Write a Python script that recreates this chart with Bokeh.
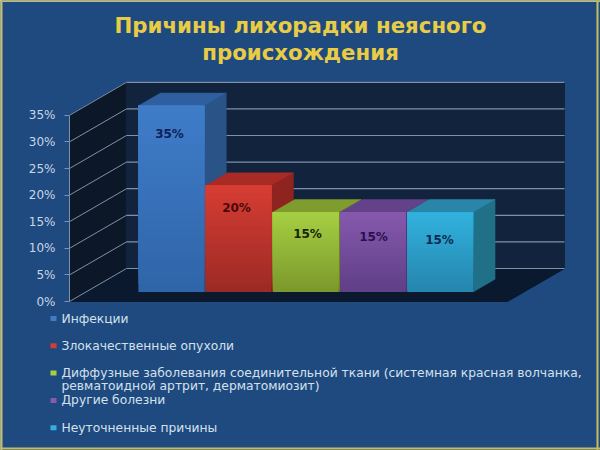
from bokeh.plotting import figure
from bokeh.models import FixedTicker, PrintfTickFormatter
from bokeh.core.properties import value
from bokeh.embed import file_html
from bokeh.resources import INLINE

# ---- data ----
title_lines = ["Причины лихорадки неясного", "происхождения"]
categories = [
    "Инфекции",
    "Злокачественные опухоли",
    "Диффузные заболевания соединительной ткани (системная красная волчанка,\nревматоидной артрит, дерматомиозит)",
    "Другие болезни",
    "Неуточненные причины",
]
values = [35, 20, 15, 15, 15]
ticks = [0, 5, 10, 15, 20, 25, 30, 35]

# ---- styles ----
top_cols = ["#3f7dc9", "#d63d33", "#a6cf42", "#8659ae", "#31b2de"]
bot_cols = ["#2f64a8", "#9c2a25", "#7b982c", "#5f3f85", "#2585ad"]
lid_cols = ["#2f5f9e", "#a82b25", "#7f9d2f", "#63428a", "#2a86a8"]
side_cols = ["#2a5488", "#8e2320", "#6c8627", "#553878", "#207088"]
label_cols = ["#10205a", "#4a0a0a", "#18240a", "#2a0f50", "#0a2c50"]
label_xy = [(169, 133), (236, 207), (307, 233), (373, 236), (439, 239)]
BG = "#1e4a80"
TICKC = "#c9d6e6"
GRID = "#7d91ac"

# page pixel <-> data scale
X0, XS = 121.5, 67.2   # page x at category 0, px per bar
Y0, YS = 301.0, 5.32   # page y at 0 %, px per percent
def dx(px): return (px - X0) / XS
def dy(py): return (Y0 - py) / YS

W, H = 600, 450
p = figure(width=W, height=H, output_backend="svg", toolbar_location=None,
           x_range=(dx(0), dx(W)), y_range=(dy(H), dy(0)),
           x_axis_location=None, min_border=0, outline_line_color=None,
           background_fill_color=BG, border_fill_color=BG)
p.grid.visible = False

# box geometry, in data units
XL, XR = dx(69), dx(507)
DEPTH_X, DEPTH_Y = 57 / XS, 33 / YS
TOP = max(ticks)

p.patch([XL, XL + DEPTH_X, XL + DEPTH_X, XL], [0, DEPTH_Y, TOP + DEPTH_Y, TOP], color="#0c1828")
p.patch([XL + DEPTH_X, XR + DEPTH_X, XR + DEPTH_X, XL + DEPTH_X],
        [DEPTH_Y, DEPTH_Y, TOP + DEPTH_Y, TOP + DEPTH_Y], color="#12233d")
p.patch([XL, XR, XR + DEPTH_X, XL + DEPTH_X], [0, 0, DEPTH_Y, DEPTH_Y], color="#0a192e")

p.segment([XL] * len(ticks), ticks, [XL + DEPTH_X] * len(ticks), [t + DEPTH_Y for t in ticks],
          line_color=GRID, line_width=1)
p.segment([XL + DEPTH_X] * len(ticks), [t + DEPTH_Y for t in ticks],
          [XR + DEPTH_X] * len(ticks), [t + DEPTH_Y for t in ticks],
          line_color=GRID, line_width=1.2)

# bars
Z0, Z1 = 0.288, 0.674
BW = 0.98
def mix(a, b, t):
    ca = [int(a[i:i + 2], 16) for i in (1, 3, 5)]
    cb = [int(b[i:i + 2], 16) for i in (1, 3, 5)]
    return "#%02x%02x%02x" % tuple(round(u + (w - u) * t) for u, w in zip(ca, cb))

for i, v in enumerate(values):
    l0 = i + Z0 * DEPTH_X
    r0 = l0 + BW
    l1 = i + Z1 * DEPTH_X
    r1 = l1 + BW
    y0 = Z0 * DEPTH_Y
    y1 = Z1 * DEPTH_Y
    p.patch([r0, r1, r1, r0], [y0, y1, v + y1, v + y0], color=side_cols[i], line_width=0.5)
    p.patch([l0, r0, r1, l1], [v + y0, v + y0, v + y1, v + y1], color=lid_cols[i], line_width=0.5)
    n = 24
    edges = [y0 + v * k / n for k in range(n + 1)]
    cols = [mix(bot_cols[i], top_cols[i], (k + 0.5) / n) for k in range(n)]
    # each strip runs to the bar's top and is painted over by the next one: no seams
    p.quad(left=[l0] * n, right=[r0] * n, bottom=edges[:-1], top=[edges[-1]] * n,
           fill_color=cols, line_color=None)
    p.text([dx(label_xy[i][0])], [dy(label_xy[i][1])], text=[f"{v}%"],
           text_font=value("DejaVu Sans"), text_font_style="bold", text_font_size="12px",
           text_color=label_cols[i], text_align="center", text_baseline="middle")

# axis
ax = p.yaxis[0]
ax.fixed_location = XL
ax.ticker = FixedTicker(ticks=ticks)
ax.formatter = PrintfTickFormatter(format="%d%%")
ax.bounds = (0, TOP)
ax.axis_line_color = GRID
ax.major_tick_line_color = GRID
ax.major_tick_out = 5
ax.major_tick_in = 0
ax.minor_tick_line_color = None
ax.major_label_standoff = 9
ax.major_label_text_color = TICKC
ax.major_label_text_font = "DejaVu Sans"
ax.major_label_text_font_size = "12px"

# title
p.text([dx(300)], [dy(25)], text=[title_lines[0]], text_font=value("DejaVu Sans"),
       text_font_style="bold", text_font_size="21.3px", text_color="#e9cc46",
       text_align="center", text_baseline="middle")
p.text([dx(300)], [dy(52)], text=[title_lines[1]], text_font=value("DejaVu Sans"),
       text_font_style="bold", text_font_size="21.3px", text_color="#e9cc46",
       text_align="center", text_baseline="middle")

# legend
ROW0, ROWSTEP, LINESTEP = 318, 27.3, 13.3
for i, c in enumerate(categories):
    yc = ROW0 + i * ROWSTEP
    p.quad(left=[dx(50)], right=[dx(56)], top=[dy(yc - 2.5)], bottom=[dy(yc + 2.5)],
           fill_color=top_cols[i], line_color=None)
    for k, line in enumerate(c.split("\n")):
        p.text([dx(61)], [dy(yc + k * LINESTEP)], text=[line], text_font=value("DejaVu Sans"),
               text_font_size="12.3px", text_color="#d5e0ec",
               text_align="left", text_baseline="middle")

# frame lines along the picture's edges
EDGE = "#c8bd5e"
p.quad(left=[dx(0)], right=[dx(2)], top=[dy(0)], bottom=[dy(450)], fill_color=EDGE, line_color=None)
p.quad(left=[dx(596)], right=[dx(598)], top=[dy(0)], bottom=[dy(450)], fill_color=EDGE, line_color=None)
p.quad(left=[dx(0)], right=[dx(600)], top=[dy(0)], bottom=[dy(1.5)], fill_color=EDGE, line_color=None)
p.quad(left=[dx(0)], right=[dx(600)], top=[dy(447)], bottom=[dy(449)], fill_color=EDGE, line_color=None)

open("out.html", "w").write(file_html(p, INLINE))
